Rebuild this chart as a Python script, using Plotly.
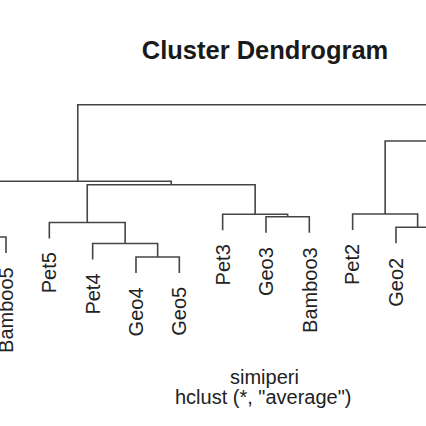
import plotly.graph_objects as go

# Hojas en el orden del dendrograma (izq -> der)
etiquetas = ["Bamboo4", "Bamboo5", "Pet5", "Pet4", "Geo4", "Geo5", "Pet3", "Geo3",
             "Bamboo3", "Pet2", "Geo2", "Geo1", "Pet1", "Bamboo1", "Bamboo2"]

# Fusiones estilo R (hclust$merge): negativo = hoja (posicion base 1), positivo = fusion previa
merge_izq = [-13, -5, -4, -1, -11, -3, -8, -7, -10, 1, 6, 4, 9, 12]
merge_der = [-14, -6, 2, -2, -12, 3, -9, 7, 5, -15, 8, 11, 10, 13]
alturas = [0.26, 0.33, 0.465, 0.53, 0.627, 0.675, 0.733, 0.757, 0.76, 0.95,
           1.053, 1.087, 1.49, 1.853]

titulo = "Cluster Dendrogram"
xlab = "simiperi"
sub = 'hclust (*, "average")'

W = 426
FUENTE = "Liberation Sans, Arial, sans-serif"


def segmentos_dendrograma(merge_izq, merge_der, alturas):
    '''Arma las lineas en U de cada fusion, como plot.hclust.'''
    hang = 0.1 * (max(alturas) - min(alturas))
    x_nodo = []
    xs, ys = [], []
    fondo_hoja = {}
    for a, b, h in zip(merge_izq, merge_der, alturas):
        puntos = []
        for c in (a, b):
            if c < 0:
                xc, yc = -c, h - hang
                fondo_hoja[-c] = yc
            else:
                xc, yc = x_nodo[c - 1], alturas[c - 1]
            puntos.append((xc, yc))
        (xa, ya), (xb, yb) = puntos
        xs += [xa, xa, xb, xb, None]
        ys += [ya, h, h, yb, None]
        x_nodo.append((xa + xb) / 2)
    return xs, ys, fondo_hoja


def py(px):
    # pixel vertical -> coordenada paper
    return 1 - px / W


xs, ys, fondo_hoja = segmentos_dendrograma(merge_izq, merge_der, alturas)

fig = go.Figure()
fig.add_trace(go.Scatter(x=xs, y=ys, mode="lines",
                         line=dict(color="#454545", width=1.6),
                         hoverinfo="skip", showlegend=False))

# Etiquetas de las hojas, rotadas
for i, lab in enumerate(etiquetas, start=1):
    fig.add_annotation(x=i, y=fondo_hoja[i] - 0.12, xref="x", yref="y",
                       text=lab, textangle=-90, showarrow=False,
                       xanchor="center", yanchor="top",
                       font=dict(family=FUENTE, size=20, color="#222222"))

fig.add_annotation(x=264 / W, y=py(377), xref="paper", yref="paper", text=xlab,
                   showarrow=False, xanchor="center", yanchor="middle",
                   font=dict(family=FUENTE, size=20, color="#222222"))
fig.add_annotation(x=263 / W, y=py(397), xref="paper", yref="paper", text=sub,
                   showarrow=False, xanchor="center", yanchor="middle",
                   font=dict(family=FUENTE, size=20, color="#222222"))

fig.update_layout(
    width=W, height=W,
    margin=dict(l=0, r=0, t=0, b=0),
    paper_bgcolor="white", plot_bgcolor="white",
    title=dict(text=titulo, x=265 / W, y=py(50), xanchor="center", yanchor="middle",
               font=dict(family=FUENTE, size=25.5, color="#1a1a1a", weight="bold")),
    xaxis=dict(visible=False, range=[2 - 6 / 43.33, 2 + 420 / 43.33]),
    yaxis=dict(visible=False, range=[(290 - 426) * 0.01, 290 * 0.01]),
)

# sin margen del body para que la figura quede pegada a la ventana
fig.write_html("out.html", config={"staticPlot": True},
               post_script="document.body.style.margin='0px';")
